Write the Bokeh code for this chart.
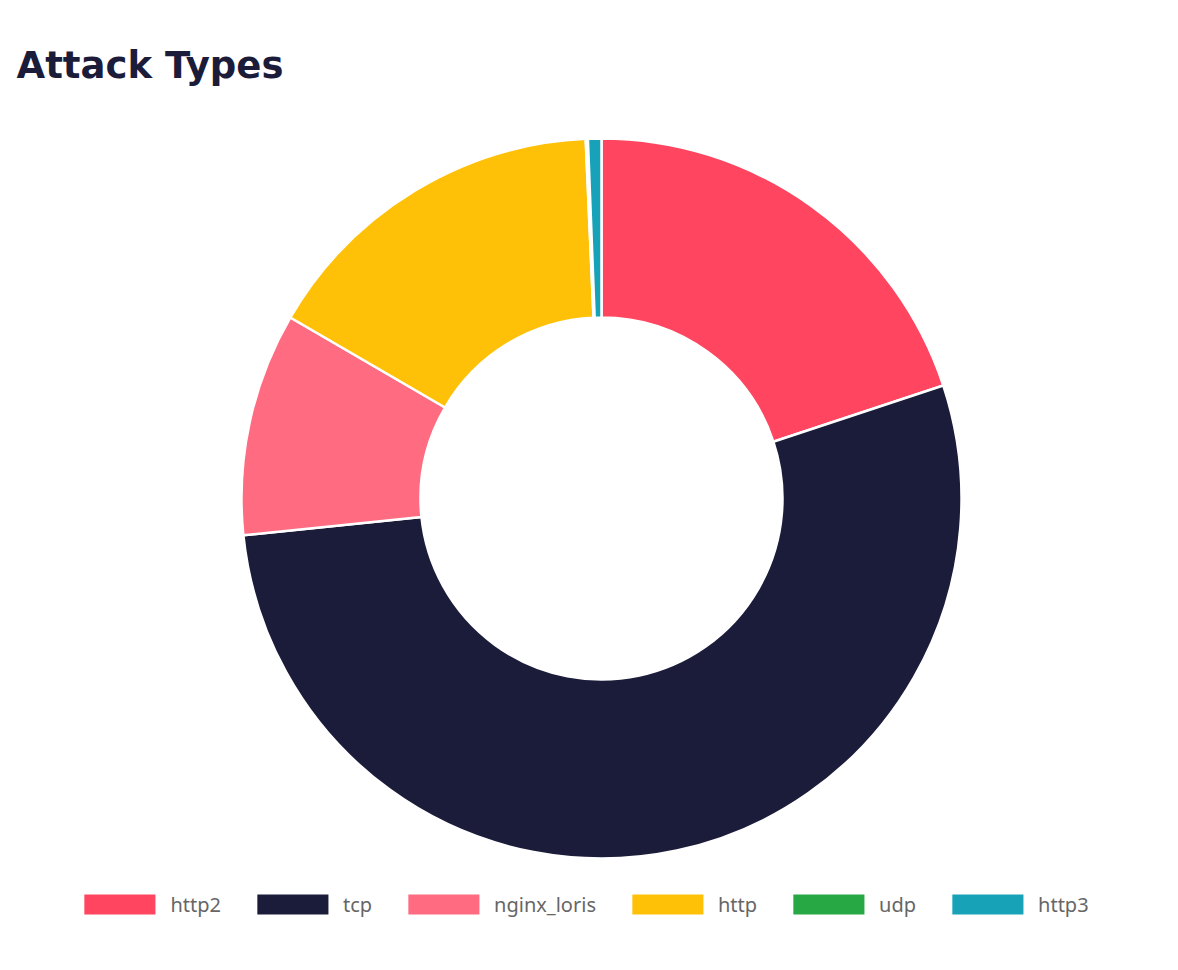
import numpy as np
from bokeh.plotting import figure
from bokeh.models import ColumnDataSource, Legend, LegendItem
from bokeh.embed import file_html
from bokeh.resources import INLINE

# Attack type shares (percent of total)
attack_types = ["http2", "tcp", "nginx_loris", "http", "udp", "http3"]
shares = [19.9, 53.4, 10.0, 15.9, 0.1, 0.6]
colors = ["#FF4560", "#1B1B3A", "#FF6B81", "#FFC107", "#28A745", "#17A2B8"]

# clockwise slices starting at 12 o'clock
fractions = np.array(shares) / sum(shares)
ends = np.cumsum(fractions)
starts = ends - fractions
source = ColumnDataSource(dict(
    name=attack_types,
    color=colors,
    start=np.pi / 2 - ends * 2 * np.pi,
    end=np.pi / 2 - starts * 2 * np.pi,
))

p = figure(
    width=1162, height=954,
    x_range=(-601, 561), y_range=(-456, 407),
    output_backend="svg", toolbar_location=None,
    min_border=0, min_border_top=91,
)
p.title.text = "Attack Types"
p.title.text_font = "DejaVu Sans"
p.title.text_font_style = "bold"
p.title.text_font_size = "37px"
p.title.text_color = "#1B1B3A"
p.title.align = "left"
p.title.vertical_align = "bottom"
p.title.offset = 16

wedges = p.annular_wedge(
    x=0, y=0, inner_radius=181, outer_radius=360,
    inner_radius_units="screen", outer_radius_units="screen",
    start_angle="start", end_angle="end",
    fill_color="color", line_color="white", line_width=2.5,
    source=source,
)

legend = Legend(
    items=[LegendItem(label=n, renderers=[wedges], index=i) for i, n in enumerate(attack_types)],
    orientation="horizontal", location="bottom_center",
    glyph_width=92, glyph_height=28, label_standoff=5, spacing=25,
    padding=0, margin=36,
    label_text_font="Noto Sans", label_text_font_size="20px", label_text_color="#666666",
    border_line_color=None, background_fill_alpha=0,
)
p.add_layout(legend)

p.axis.visible = False
p.grid.visible = False
p.outline_line_color = None

open("out.html", "w").write(file_html(p, INLINE))
